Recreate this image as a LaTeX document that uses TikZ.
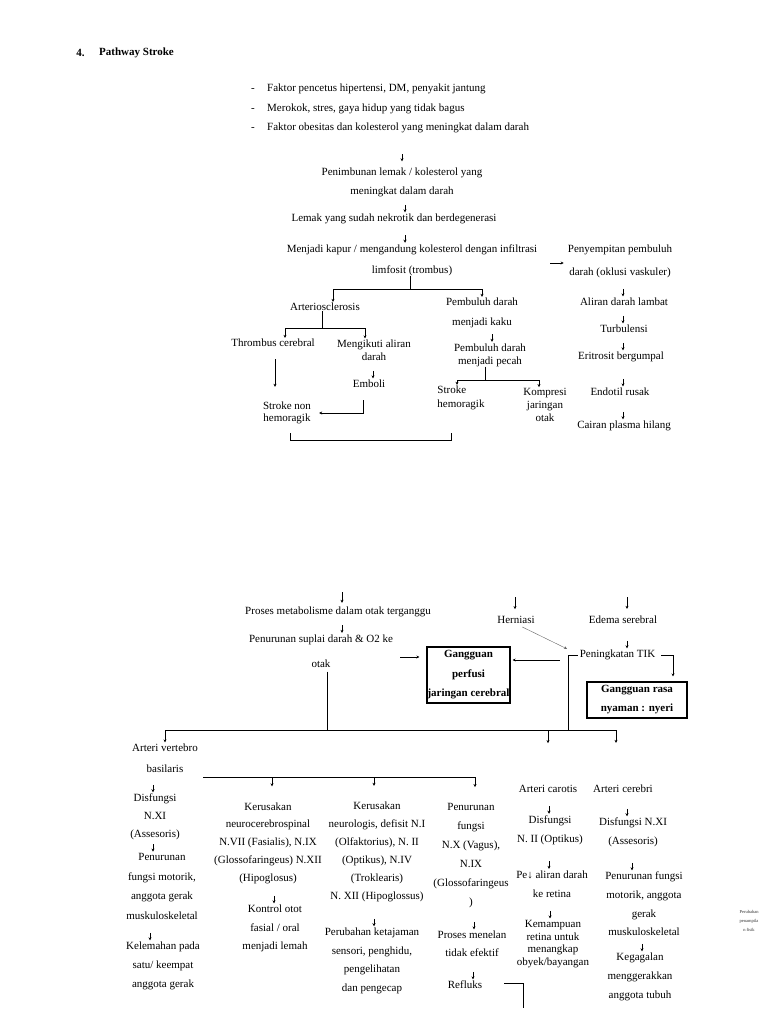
\documentclass[tikz,border=0pt]{standalone}
\usepackage{fontspec}
\setmainfont{Liberation Serif}
\usetikzlibrary{arrows.meta,calc}
\newcommand\chainarr[3][0pt]{\draw[arr] ($([xshift=#1]#3.north)!9pt!([xshift=#1]#3.north |- #2.south)$) -- ([xshift=#1,yshift=1.5pt]#3.north);}
\begin{document}
\begin{tikzpicture}[x=1pt,y=-1pt,
  txt/.style={inner sep=0pt,align=center,font=\fontsize{11}{13}\selectfont},
  ls/.style={font=\fontsize{11}{#1}\selectfont},
  ln/.style={line width=0.9pt},
  arr/.style={ln,-{Stealth[length=3pt,width=3pt]}},
  bx/.style={draw,line width=1.1pt,inner sep=0pt,align=center},
]
\useasboundingbox (0,0) rectangle (768,1024);
\fill[white] (0,0) rectangle (768,1024);

% ---------- title and causes ----------
\node[txt,font=\bfseries\fontsize{11}{13}\selectfont] (num) at (80.5,53) {4.};
\node[txt,anchor=west,font=\bfseries\fontsize{11}{13}\selectfont] (title) at (99,53) {Pathway Stroke};
\node[txt,anchor=west] (b1) at (251,89) {\makebox[16pt][l]{-}Faktor pencetus hipertensi, DM, penyakit jantung};
\node[txt,anchor=west] (b2) at (251,109) {\makebox[16pt][l]{-}Merokok, stres, gaya hidup yang tidak bagus};
\node[txt,anchor=west] (b3) at (251,128) {\makebox[16pt][l]{-}Faktor obesitas dan kolesterol yang meningkat dalam darah};

% ---------- upper chain ----------
\node[txt,ls=19] (a1) at (402,182) {Penimbunan lemak / kolesterol yang\\meningkat dalam darah};
\node[txt] (a2) at (394,219) {Lemak yang sudah nekrotik dan berdegenerasi};
\node[txt,ls=21] (a3) at (412,260) {Menjadi kapur / mengandung kolesterol dengan infiltrasi\\limfosit (trombus)};
\node[txt,ls=23] (p1) at (620,261) {Penyempitan pembuluh\\darah (oklusi vaskuler)};
\node[txt] (p2) at (624,302) {Aliran darah lambat};
\node[txt] (p3) at (624,329) {Turbulensi};
\node[txt] (p4) at (621,357) {Eritrosit bergumpal};
\node[txt] (p5) at (620,392) {Endotil rusak};
\node[txt] (p6) at (624,426) {Cairan plasma hilang};
\node[txt] (c1) at (325,307) {Arteriosclerosis};
\node[txt,ls=20] (d1) at (482,313) {Pembuluh darah\\menjadi kaku};
\node[txt] (c2) at (273,343) {Thrombus cerebral};
\node[txt,ls=13] (c3) at (374,350) {Mengikuti aliran\\darah};
\node[txt] (c4) at (369,384) {Emboli};
\node[txt,ls=12] (c5) at (287,413) {Stroke non\\hemoragik};
\node[txt,ls=13] (d2) at (490,355) {Pembuluh darah\\menjadi pecah};
\node[txt,ls=14,align=left] (d3) at (461,398) {Stroke\\hemoragik};
\node[txt,ls=13] (d4) at (545,405) {Kompresi\\jaringan\\otak};

\draw[arr,shorten <=21pt,shorten >=6pt] (b3.south -| a1.north) -- (a1.north);
\chainarr[11pt]{a1}{a2}
\chainarr[-7pt]{a2}{a3}
\draw[arr,shorten <=13pt,shorten >=4pt] ([yshift=-3pt]a3.east) -- ([yshift=-3pt]a3.east -| p1.west);
\chainarr[-1pt]{p1}{p2}
\chainarr[-1pt]{p2}{p3}
\chainarr[2pt]{p3}{p4}
\chainarr[3pt]{p4}{p5}
\chainarr[-1pt]{p5}{p6}

\coordinate (j1) at (410,289);
\draw[ln] (a3.south -| j1) -- (j1);
\draw[arr,shorten >=1pt] (j1) -| ([xshift=8pt]c1.north);
\draw[arr,shorten >=1pt] (j1) -| (d1.north);
\coordinate (j2) at (322,328);
\draw[ln] (c1.south -| j2) -- (j2);
\draw[arr,shorten >=1pt] (j2) -| ([xshift=12pt]c2.north);
\draw[arr,shorten >=1pt] (j2) -| ([xshift=-9pt]c3.north);
\chainarr[2pt]{d1}{d2}
\chainarr[4pt]{c3}{c4}
\draw[arr,shorten <=12pt,shorten >=15pt] ([xshift=2pt]c2.south) -- ([xshift=2pt]c2.south |- c5.north);
\draw[arr,shorten <=12pt,shorten >=8pt] ([xshift=-6pt]c4.south) |- (c5.east);
\coordinate (j3) at (485,380);
\draw[ln] (d2.south -| j3) -- (j3);
\draw[arr,shorten >=1pt] (j3) -| ([xshift=-4pt]d3.north);
\draw[arr,shorten >=1pt] (j3) -| ([xshift=-6pt]d4.north);
\coordinate (ybk) at (0,440);
\draw[ln,shorten <=9pt,shorten >=23pt] ([xshift=3pt]c5.south) -- ([xshift=3pt]c5.south |- ybk) -- ([xshift=-10pt]d3.south |- ybk) -- ([xshift=-10pt]d3.south);

% ---------- lower part ----------
\coordinate (e0) at (342,592);
\node[txt] (e1) at (338,612) {Proses metabolisme dalam otak terganggu};
\draw[arr,shorten >=4pt] (e0) -- (e0 |- e1.north);
\node[txt,ls=25] (e2) at (321,651) {Penurunan suplai darah \& O2 ke\\otak};
\chainarr[21pt]{e1}{e2}
\node[bx,minimum width=83pt,minimum height=56pt,font=\bfseries\fontsize{11}{19.5}\selectfont] (g1) at (468.5,675) {Gangguan\\perfusi\\jaringan cerebral};
\draw[arr,shorten <=7pt,shorten >=7pt] ([yshift=-6pt]e2.east) -- ([yshift=-6pt]e2.east -| g1.west);

\coordinate (h0) at (515,597);
\node[txt] (h1) at (516,620) {Herniasi};
\draw[arr,shorten >=7pt] (h0) -- (h0 |- h1.north);
\coordinate (i0) at (627,597);
\node[txt] (i1) at (623,620) {Edema serebral};
\draw[arr,shorten >=7pt] (i0) -- (i0 |- i1.north);
\node[txt] (i2) at (617.5,655) {Peningkatan TIK};
\chainarr[9.5pt]{i1}{i2}
\draw[-{Stealth[length=3pt,width=3pt]},line width=0.4pt,black!60,shorten <=7pt,shorten >=14pt] (h1.south) -- (i2.west);
\draw[arr,shorten <=20pt,shorten >=2pt] ([yshift=-5pt]i2.west) -- ([yshift=-5pt]i2.west -| g1.east);
\node[bx,minimum width=100pt,minimum height=36pt,font=\bfseries\fontsize{11}{19}\selectfont] (g2) at (637,700) {Gangguan rasa\\nyaman : nyeri};
\draw[arr,shorten <=6pt,shorten >=5pt] (i2.east) -| ([xshift=36pt]g2.north);
\coordinate (k) at (568,730);
\draw[ln,shorten <=2pt] (i2.west) -| (k);

\coordinate (hl) at (0,730);
\node[txt,ls=21] (f1) at (165,758) {Arteri vertebro\\basilaris};
\node[txt] (m1) at (548,789) {Arteri carotis};
\node[txt] (n1) at (623,789) {Arteri cerebri};
\draw[ln,shorten <=4pt] ([xshift=6pt]e2.south) -- ([xshift=6pt]e2.south |- hl);
\draw[ln] (f1.north |- hl) -- ([xshift=-7pt]n1.north |- hl);
\draw[arr,shorten >=1pt] (f1.north |- hl) -- (f1.north);
\draw[arr,shorten >=42pt] (m1.north |- hl) -- (m1.north);
\draw[arr,shorten >=42pt] ([xshift=-7pt]n1.north |- hl) -- ([xshift=-7pt]n1.north);

% column 1
\node[txt,ls=18] (f2) at (155,817) {Disfungsi\\N.XI\\(Assesoris)};
\node[txt,ls=19.7] (f3) at (162,886.5) {Penurunan\\fungsi motorik,\\anggota gerak\\muskuloskeletal};
\node[txt,ls=19] (f4) at (163,966) {Kelemahan pada\\satu/ keempat\\anggota gerak};
\chainarr[-2pt]{f1}{f2}
\chainarr[-9pt]{f2}{f3}
\chainarr[-13pt]{f3}{f4}

% columns 2-4
\node[txt,ls=17.75] (q1) at (268,843) {Kerusakan\\neurocerebrospinal\\N.VII (Fasialis), N.IX\\(Glossofaringeus) N.XII\\(Hipoglosus)};
\node[txt,ls=18.5] (q2) at (275,928.5) {Kontrol otot\\fasial / oral\\menjadi lemah};
\chainarr[-1pt]{q1}{q2}
\node[txt,ls=18] (r1) at (377,852) {Kerusakan\\neurologis, defisit N.I\\(Olfaktorius), N. II\\(Optikus), N.IV\\(Troklearis)\\N. XII (Hipoglossus)};
\node[txt,ls=18.7] (r2) at (372,961) {Perubahan ketajaman\\sensori, penghidu,\\pengelihatan\\dan pengecap};
\chainarr[2pt]{r1}{r2}
\node[txt,ls=19] (s1) at (471,855.5) {Penurunan\\fungsi\\N.X (Vagus),\\N.IX\\(Glossofaringeus\\)};
\node[txt,ls=18] (s2) at (472,944) {Proses menelan\\tidak efektif};
\node[txt] (s3) at (465,985) {Refluks};
\chainarr[2pt]{s1}{s2}
\chainarr[8pt]{s2}{s3}
\coordinate (rf) at (523,1008);
\draw[ln,shorten <=22pt] ([yshift=2pt]s3.east) -| (rf);

\coordinate (hl2) at (0,777);
\draw[ln,shorten <=5pt] (f1.east |- hl2) -- ([xshift=4pt]s1.north |- hl2);
\draw[arr,shorten >=16pt] ([xshift=4pt]q1.north |- hl2) -- ([xshift=4pt]q1.north);
\draw[arr,shorten >=16pt] ([xshift=-3pt]r1.north |- hl2) -- ([xshift=-3pt]r1.north);
\draw[arr,shorten >=16pt] ([xshift=4pt]s1.north |- hl2) -- ([xshift=4pt]s1.north);

% column 5
\node[txt,ls=19] (m2) at (550,830) {Disfungsi\\N. II (Optikus)};
\node[txt,ls=19] (m3) at (552,884) {Pe↓ aliran darah\\ke retina};
\node[txt,ls=12.7] (m4) at (553,944) {Kemampuan\\retina untuk\\menangkap\\obyek/bayangan};
\chainarr[-1pt]{m1}{m2}
\chainarr[-3pt]{m2}{m3}
\chainarr[-3pt]{m3}{m4}

% column 6
\node[txt,ls=19] (n2) at (633,832.5) {Disfungsi N.XI\\(Assesoris)};
\node[txt,ls=18.7] (n3) at (644,904) {Penurunan fungsi\\motorik, anggota\\gerak\\muskuloskeletal};
\node[txt,ls=19] (n4) at (640,977) {Kegagalan\\menggerakkan\\anggota tubuh};
\chainarr[-6pt]{n1}{n2}
\chainarr[-12pt]{n2}{n3}
\chainarr[2pt]{n3}{n4}

\node[txt,font=\fontsize{4.5}{9}\selectfont,text=black!80] (pp) at (749,921) {Perubahan\\penampila\\n fisik};
\end{tikzpicture}
\end{document}
